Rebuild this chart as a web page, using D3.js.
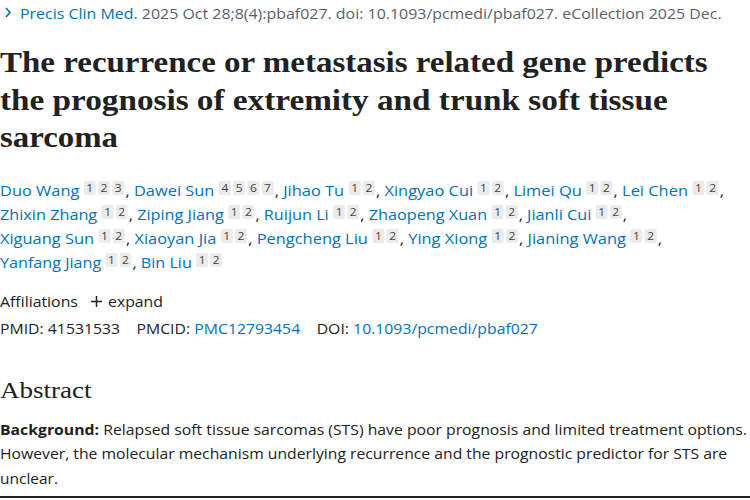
<!DOCTYPE html>
<html><head><meta charset="utf-8">
<script src="https://cdn.jsdelivr.net/npm/d3@7"></script>
<style>body{margin:0;background:#fff}</style></head>
<body><svg id="c" width="750" height="500"></svg>
<script>
const citation = ["Precis Clin Med.", " 2025 Oct 28;8(4):pbaf027. doi: 10.1093/pcmedi/pbaf027. eCollection 2025 Dec."];
const titleLines = ["The recurrence or metastasis related gene predicts","the prognosis of extremity and trunk soft tissue","sarcoma"];
const authorLines = [
 [["Duo Wang",["1","2","3"]],["Dawei Sun",["4","5","6","7"]],["Jihao Tu",["1","2"]],["Xingyao Cui",["1","2"]],["Limei Qu",["1","2"]],["Lei Chen",["1","2"]]],
 [["Zhixin Zhang",["1","2"]],["Ziping Jiang",["1","2"]],["Ruijun Li",["1","2"]],["Zhaopeng Xuan",["1","2"]],["Jianli Cui",["1","2"]]],
 [["Xiguang Sun",["1","2"]],["Xiaoyan Jia",["1","2"]],["Pengcheng Liu",["1","2"]],["Ying Xiong",["1","2"]],["Jianing Wang",["1","2"]]],
 [["Yanfang Jiang",["1","2"]],["Bin Liu",["1","2"]]]
];
const authorWidths = [724, 627, 662, 222];
const authorBaselines = [196, 220, 244, 268];
const ids = [["PMID:","#212121"],[" 41531533    PMCID: ","#212121"],["PMC12793454","#0071bc"],["    DOI: ","#212121"],["10.1093/pcmedi/pbaf027","#0071bc"]];
const abstractLines = [
 [["Background:",700],[" Relapsed soft tissue sarcomas (STS) have poor prognosis and limited treatment options.",400]],
 [["However, the molecular mechanism underlying recurrence and the prognostic predictor for STS are",400]],
 [["unclear.",400]]
];
const abstractWidths = [748, 728, 58];
const abstractBaselines = [435, 459, 484];

const svg = d3.select("#c");
const SANS = "'Open Sans', 'Noto Sans', sans-serif";
const SERIF = "'Liberation Serif', serif";
const BLUE = "#0071bc";

function fitLine(y, x0, target, build) {
  const g = svg.append("g");
  const inner = g.append("g");
  build(inner);
  const w = inner.node().getBBox().width;
  const s = target / w;
  inner.attr("transform", `translate(${x0},${y}) scale(${s},1)`);
}
function seg(g, x, txt, opts) {
  const t = g.append("text").attr("x", x).attr("y", 0).text(txt)
    .attr("font-family", opts.family || SANS).attr("font-size", opts.size || 15)
    .attr("font-weight", opts.weight || 400).attr("fill", opts.color || "#212121")
    .attr("xml:space","preserve").style("white-space","pre");
  return x + t.node().getComputedTextLength();
}

// citation
svg.append("path").attr("d","M6,8 L10,12.5 L6,17").attr("fill","none").attr("stroke",BLUE).attr("stroke-width",1.6);
fitLine(19, 20, 702, g => { let x = seg(g,0,citation[0],{color:BLUE}); seg(g,x,citation[1],{color:"#5b616b"}); });

// title
const tW = [708, 668, 118], tY = [72, 110, 147];
titleLines.forEach((l,i) => fitLine(tY[i], 0, tW[i], g => seg(g,0,l,{family:SERIF,size:30,weight:700,color:"#212121"})));

// authors
authorLines.forEach((line, li) => {
  fitLine(authorBaselines[li], 0, authorWidths[li], g => {
    let x = 0;
    line.forEach((a, ai) => {
      x = seg(g, x, a[0], {color:BLUE});
      x += 4;
      a[1].forEach(n => {
        g.append("rect").attr("x",x).attr("y",-15).attr("width",11).attr("height",14).attr("rx",2).attr("fill","#ebebeb");
        g.append("text").attr("x",x+5.5).attr("y",-4).attr("text-anchor","middle").attr("font-family",SANS).attr("font-size",11).attr("fill","#444").text(n);
        x += 13;
      });
      const last = ai === line.length - 1;
      if (!last || li < authorLines.length - 1) x = seg(g, x - 1, last ? "," : ", ", {color:"#212121"});
    });
  });
});

// affiliations
fitLine(307, 0, 78, g => seg(g,0,"Affiliations",{}));
svg.append("path").attr("d","M91,301.5 H102 M96.5,296 V307").attr("stroke","#212121").attr("stroke-width",1.5);
fitLine(307, 108, 55, g => seg(g,0,"expand",{}));

// ids
fitLine(334, 0, 538, g => { let x = 0; ids.forEach(d => { x = seg(g,x,d[0],{color:d[1]}); }); });

// abstract
fitLine(398, 0, 92, g => seg(g,0,"Abstract",{family:SERIF,size:24,weight:400,color:"#212121"}));
abstractLines.forEach((l,i) => fitLine(abstractBaselines[i], 0, abstractWidths[i], g => {
  let x = 0; l.forEach(s => { x = seg(g,x,s[0],{weight:s[1]}); });
}));
svg.append("rect").attr("x",0).attr("y",496).attr("width",750).attr("height",2).attr("fill","#212121");
</script></body></html>
